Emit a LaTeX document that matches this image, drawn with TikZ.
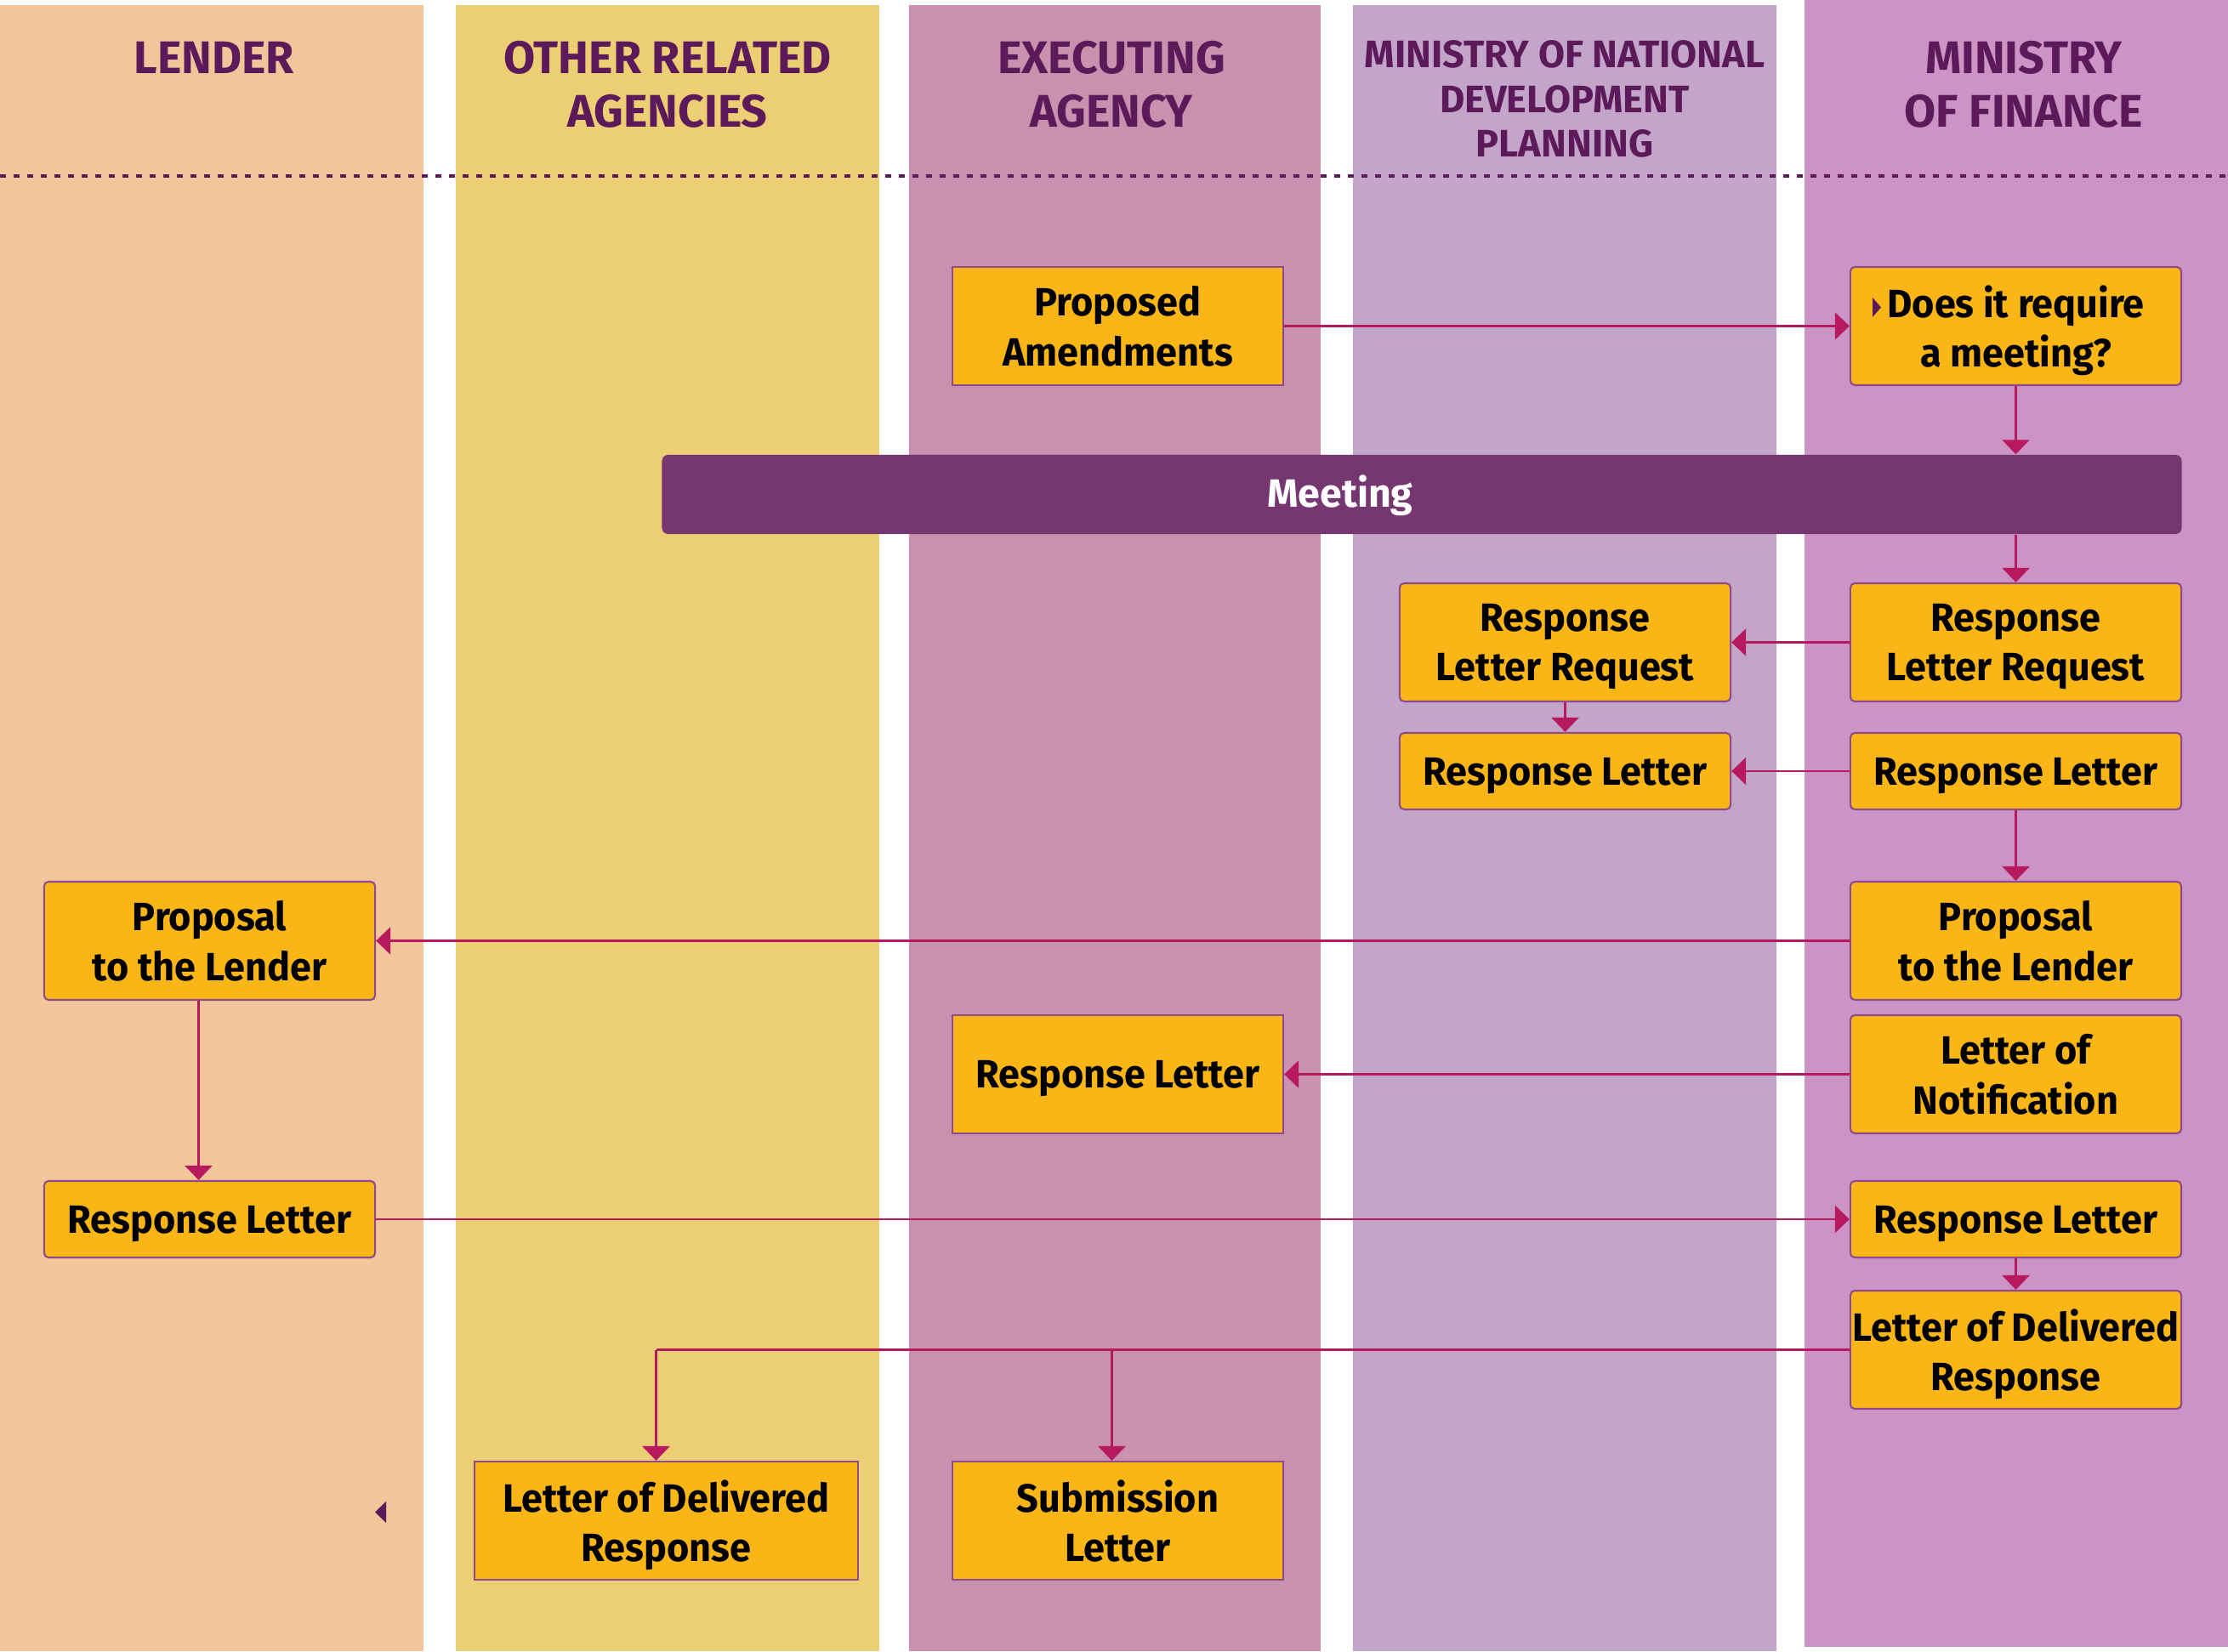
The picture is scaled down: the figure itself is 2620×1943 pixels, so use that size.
\documentclass[tikz,border=0pt]{standalone}
\usepackage{fontspec}
\setmainfont{Fira Sans}
\newfontfamily\boxfont{Fira Sans}[FakeStretch=0.97]
\usetikzlibrary{arrows.meta,positioning}

\definecolor{lenderc}{HTML}{F2C59B}
\definecolor{otherc}{HTML}{ECCF74}
\definecolor{execc}{HTML}{C891AD}
\definecolor{mondpc}{HTML}{C4A5CA}
\definecolor{mofc}{HTML}{CC94C5}
\definecolor{boxc}{HTML}{F9B616}
\definecolor{edgec}{HTML}{8E4A8A}
\definecolor{meetc}{HTML}{763771}
\definecolor{headc}{HTML}{5C1A5A}
\definecolor{arrc}{HTML}{B7195F}

\tikzset{
  docbox/.style={draw=edgec, line width=0.6pt, fill=boxc, rounded corners=1.5pt,
    minimum width=3.89cm, minimum height=1.39cm, align=center, inner sep=0pt,
    text depth=0pt, font=\boxfont\fontsize{13.2}{16.6}\selectfont\bfseries},
  docone/.style={docbox, minimum height=0.9cm},
  sqbox/.style={rounded corners=0pt},
  hdtext/.style={text=headc, align=center, font=\fontsize{15.3}{17.9}\selectfont\bfseries},
  flowline/.style={draw=arrc, line width=0.8pt},
  flowarr/.style={flowline, -{Triangle[width=0.32cm,length=0.17cm]}},
}

\begin{document}
\begin{tikzpicture}[x=0.01cm, y=-0.01cm]
\useasboundingbox (0,0) rectangle (2620,1943);
\fill[white] (0,0) rectangle (2620,1943);
\fill[lenderc] (0,6) rectangle (498,1942);
\fill[otherc] (536,6) rectangle (1034,1942);
\fill[execc] (1069,6) rectangle (1553,1942);
\fill[mondpc] (1591,6) rectangle (2089,1942);
\fill[mofc] (2122,0) rectangle (2620,1937);
\draw[headc, line width=1.1pt, dash pattern=on 0.07cm off 0.09cm] (0,207) -- (2620,207);
%
\node[hdtext] (lend0) at (252,67.5) {LENDER};
\node[hdtext] (oth0) at (785,99) {OTHER RELATED\\AGENCIES};
\node[hdtext] (exe0) at (1307,99) {EXECUTING\\AGENCY};
\node[hdtext, font=\fontsize{12.8}{15}\selectfont\bfseries] (plan0) at (1840,116.5) {MINISTRY OF NATIONAL\\DEVELOPMENT\\PLANNING};
\node[hdtext] (fin0) at (2380,99) {MINISTRY\\OF FINANCE};
%
\node[docbox, sqbox] (amend1) at (1314.5,383.5) {Proposed\\Amendments};
\node[docbox] (ask1) at (2370.5,383.5) {Does it require\\a meeting?};
\node[fill=meetc, rounded corners=2pt, minimum width=17.86cm, minimum height=0.93cm, inner sep=0pt] (meet1) at (1672,581.5) {};
\node[text=white, text depth=0pt, font=\fontsize{13.2}{15.6}\selectfont\bfseries] (meet2) at (1576,578) {Meeting};
\node[docbox] (rlr1) at (2370.5,755.5) {Response\\Letter Request};
\node[docbox] (rlr2) at (1840.5,755.5) {Response\\Letter Request};
\node[docone] (rl1) at (2370.5,907) {Response Letter};
\node[docone] (rl2) at (1840.5,907) {Response Letter};
\node[docbox] (prop1) at (2370.5,1106.5) {Proposal\\to the Lender};
\node[docbox] (prop2) at (246.5,1106.5) {Proposal\\to the Lender};
\node[docbox] (note1) at (2370.5,1263.5) {Letter of\\Notification};
\node[docbox, sqbox] (rl3) at (1314.5,1263.5) {Response Letter};
\node[docone] (rl4) at (2370.5,1434) {Response Letter};
\node[docone] (rl5) at (246.5,1434) {Response Letter};
\node[docbox] (del1) at (2370.5,1587.5) {Letter of Delivered\\Response};
\node[docbox, sqbox, minimum width=4.5cm] (del2) at (783.5,1788.5) {Letter of Delivered\\Response};
\node[docbox, sqbox] (sub1) at (1314.5,1788.5) {Submission\\Letter};
%
\draw[flowarr] (amend1) -- (ask1);
\draw[flowarr] (ask1) -- (ask1 |- meet1.north);
\draw[flowarr] (meet1.south -| rlr1) -- (rlr1);
\draw[flowarr] (rlr1) -- (rlr2);
\draw[flowarr] (rlr2) -- (rl2);
\draw[flowarr] (rl1) -- (rl2);
\draw[flowarr] (rl1) -- (prop1);
\draw[flowarr] (prop1) -- (prop2);
\draw[flowarr] ([xshift=-0.13cm]prop2.south) -- ([xshift=-0.13cm]rl5.north);
\draw[flowarr] (note1) -- (rl3);
\draw[flowarr] (rl5) -- (rl4);
\draw[flowarr] (rl4) -- (del1);
\coordinate (br1) at ([xshift=-0.12cm]del2.north |- del1.west);
\coordinate (br2) at ([xshift=-0.07cm]sub1.north |- del1.west);
\draw[flowline] (del1) -- (br1);
\draw[flowarr] (br1) -- ([xshift=-0.12cm]del2.north);
\draw[flowarr] (br2) -- ([xshift=-0.07cm]sub1.north);
%
\fill[headc] (2202,350) -- (2212,361.5) -- (2202,373) -- cycle;
\fill[headc] (454,1766) -- (441,1778.5) -- (454,1791) -- cycle;
\end{tikzpicture}
\end{document}
